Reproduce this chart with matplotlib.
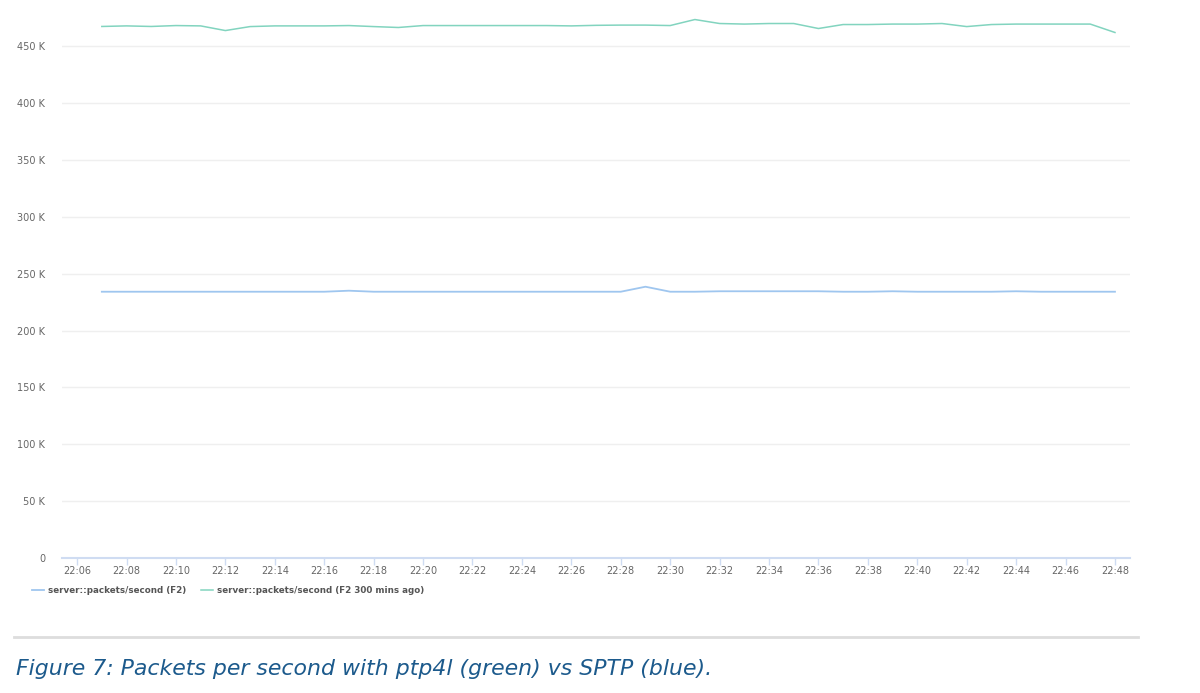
import matplotlib
matplotlib.use("Agg")
import matplotlib.pyplot as plt
from matplotlib.ticker import FuncFormatter, MultipleLocator

# --- data: minutes after 22:00, one sample per minute ---
minutes = list(range(7, 49))

# ptp4l (green, "F2 300 mins ago")
ptp4l_pps = [
    467.5, 468.0, 467.5, 468.3, 468.0, 463.9, 467.4, 468.0, 468.0, 468.0,
    468.3, 467.4, 466.6, 468.3, 468.3, 468.3, 468.3, 468.3, 468.3, 468.0,
    468.5, 468.7, 468.7, 468.3, 473.6, 470.1, 469.6, 470.1, 470.1, 465.7,
    469.2, 469.2, 469.6, 469.6, 470.1, 467.4, 469.2, 469.6, 469.6, 469.6,
    469.6, 462.2,
]

# SPTP (blue, "F2")
sptp_pps = [
    234.2, 234.2, 234.2, 234.2, 234.2, 234.2, 234.2, 234.2, 234.2, 234.2,
    235.1, 234.2, 234.2, 234.2, 234.2, 234.2, 234.2, 234.2, 234.2, 234.2,
    234.2, 234.2, 238.6, 234.2, 234.2, 234.6, 234.6, 234.6, 234.6, 234.6,
    234.2, 234.2, 234.6, 234.2, 234.2, 234.2, 234.2, 234.6, 234.2, 234.2,
    234.2, 234.2,
]

series_labels = ["server::packets/second (F2)",
                 "server::packets/second (F2 300 mins ago)"]
caption = "Figure 7: Packets per second with ptp4l (green) vs SPTP (blue)."

blue = "#9fc6ef"
green = "#82d4bf"

fig = plt.figure(figsize=(12, 6.93), dpi=100)
ax = fig.add_axes([0.0517, 0.1948, 0.89, 0.7908])

ax.plot(minutes, [v * 1000 for v in sptp_pps], color=blue, lw=1.3,
        label=series_labels[0])
ax.plot(minutes, [v * 1000 for v in ptp4l_pps], color=green, lw=1.1,
        label=series_labels[1])

ax.set_xlim(5.39, 48.61)
ax.set_ylim(0, 482000)

ax.xaxis.set_major_locator(MultipleLocator(2))
ax.xaxis.set_major_formatter(FuncFormatter(lambda m, _: f"22:{int(round(m)):02d}"))
ax.yaxis.set_major_locator(MultipleLocator(50000))
ax.yaxis.set_major_formatter(
    FuncFormatter(lambda v, _: "0" if v == 0 else f"{int(v / 1000)} K"))

ax.grid(axis="y", color="#efefef", lw=1)
ax.set_axisbelow(True)
for side in ["top", "right", "left"]:
    ax.spines[side].set_visible(False)
ax.spines["bottom"].set_color("#cfdcf2")
ax.spines["bottom"].set_linewidth(1.5)

ax.tick_params(axis="x", colors="#cfdcf2", length=5, width=1, pad=1,
               labelcolor="#666666", labelsize=7)
ax.tick_params(axis="y", length=0, pad=12, labelcolor="#666666", labelsize=7)

fig.legend(loc="upper left", bbox_to_anchor=(0.02, 0.166), ncol=2,
           frameon=False, handlelength=1.4, handletextpad=0.5,
           columnspacing=1.6, prop={"size": 6.3, "weight": "bold"},
           labelcolor="#555555")

# separator line and caption
fig.add_artist(plt.Line2D([0.012, 0.948], [0.081, 0.081],
                          color="#dddddd", lw=2))
fig.text(0.013, 0.026, caption, fontsize=15.8, style="italic",
         color="#1c5a8c", family="DejaVu Sans")

fig.savefig("out.png", dpi=100)
